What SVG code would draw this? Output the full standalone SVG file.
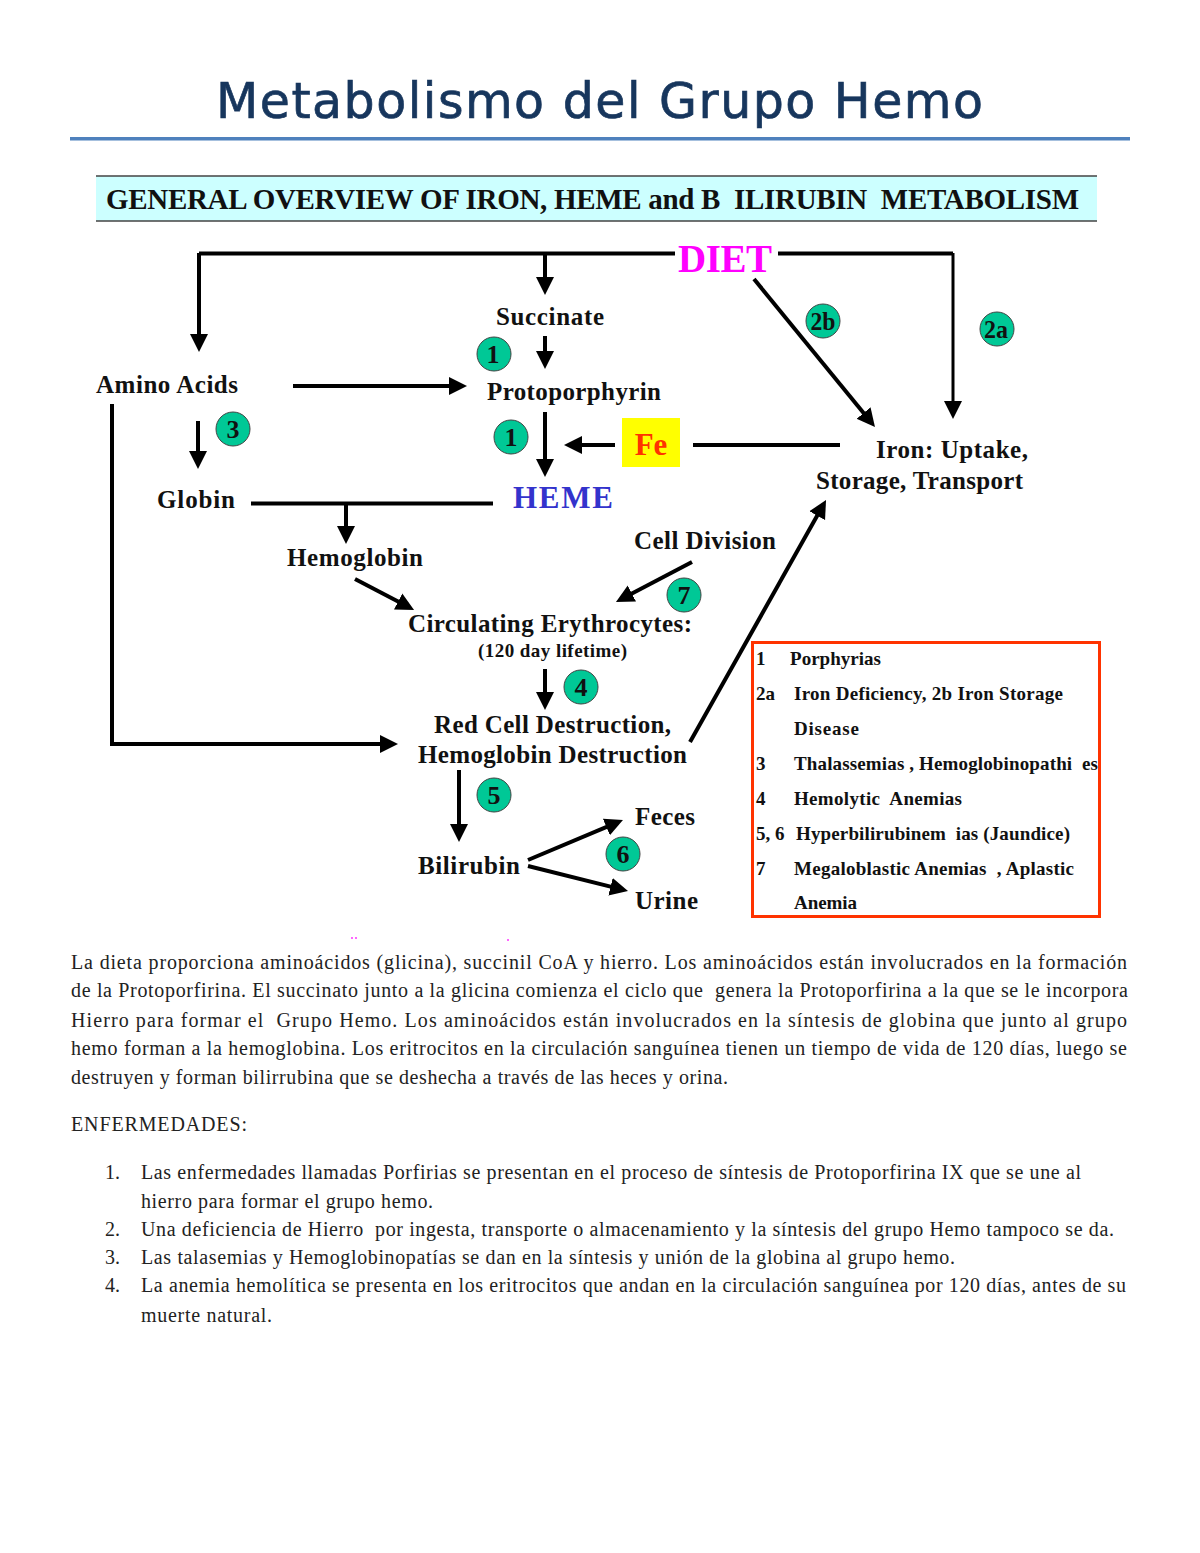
<svg xmlns="http://www.w3.org/2000/svg" width="1200" height="1553" viewBox="0 0 1200 1553">
<style>
text{white-space:pre}
.t{font-family:"Liberation Serif","Times New Roman",serif;font-weight:bold;fill:#111}
.n{font-size:25px}
.k{font-size:19px}
.b{font-family:"Liberation Serif","Times New Roman",serif;font-size:20px;fill:#222}
.w{stroke:#000;stroke-width:4;fill:none}
.a{stroke:#000;stroke-width:4;fill:none;marker-end:url(#h)}
.d{fill:#00C896;stroke:#444;stroke-width:1}
.m{font-size:26px;text-anchor:middle}
</style>
<defs>
<marker id="h" markerUnits="userSpaceOnUse" viewBox="0 0 18 20" markerWidth="18" markerHeight="20" refX="1" refY="10" orient="auto"><path d="M0 1L18 10L0 19Z" fill="#000"/></marker>
</defs>
<rect width="1200" height="1553" fill="#fff"/>
<text x="216" y="118" font-family="DejaVu Sans,sans-serif" font-size="49" fill="#17365D" stroke="#17365D" stroke-width="0.7" textLength="767" lengthAdjust="spacing">Metabolismo del Grupo Hemo</text>
<rect x="70" y="137" width="1060" height="3.5" fill="#4F81BD"/>
<g id="banner"><rect x="96" y="176" width="1001" height="45" fill="#CCFFFF"/><path d="M96 176H1097M96 221H1097" stroke="#444" stroke-width="1.5"/><text class="t" x="106" y="209" font-size="29" textLength="973" lengthAdjust="spacing">GENERAL OVERVIEW OF IRON, HEME and B  ILIRUBIN  METABOLISM</text></g>
<g id="connectors">
<path class="w" d="M675 253.500H199M778 253.500H953"/>
<path class="a" d="M199 253V335"/>
<path class="a" d="M545 253V278"/>
<path class="a" d="M545 336V352"/>
<path class="a" d="M293 386H450"/>
<path class="a" d="M198 421V452"/>
<path class="a" d="M545 412V460"/>
<path class="a" d="M615 445H581"/>
<path class="w" d="M693 445H840"/>
<path class="a" d="M754 279L864.200 413.800"/>
<path class="a" style="stroke-width:3" d="M953 253V402"/>
<path class="w" d="M251 503.500H493"/>
<path class="a" d="M346 503V527"/>
<path class="a" d="M355 579L399 602"/>
<path class="a" d="M692 562L631 594"/>
<path class="a" d="M545 669V693"/>
<path class="a" d="M112 404V744H381"/>
<path class="a" d="M459 770V825"/>
<path class="a" d="M528 860L607.300 826.600"/>
<path class="a" d="M528 866L611.500 886.900"/>
<path class="a" d="M690 742L817.700 514.800"/>
</g>
<g id="diet"><text class="t" x="678" y="272" font-size="39" style="fill:#FF00FF" textLength="94">DIET</text></g>
<g id="succinate"><text class="t n" x="496" y="325" textLength="108">Succinate</text></g>
<g id="amino-acids"><text class="t n" x="96" y="393" textLength="142">Amino Acids</text></g>
<g id="protoporphyrin"><text class="t n" x="487" y="400" textLength="174">Protoporphyrin</text></g>
<g id="fe"><rect x="622" y="418" width="58" height="49" fill="#FFFF00"/><text class="t" x="651" y="455" font-size="31" text-anchor="middle" style="fill:#FF3300">Fe</text></g>
<g id="iron"><text class="t n" x="876" y="458" textLength="152">Iron: Uptake,</text><text class="t n" x="816" y="489" textLength="207">Storage, Transport</text></g>
<g id="globin"><text class="t n" x="157" y="508" textLength="78">Globin</text></g>
<g id="heme"><text class="t" x="513" y="508" font-size="31" style="fill:#3333CC" textLength="100">HEME</text></g>
<g id="hemoglobin"><text class="t n" x="287" y="566" textLength="136">Hemoglobin</text></g>
<g id="cell-division"><text class="t n" x="634" y="549" textLength="142">Cell Division</text></g>
<g id="erythrocytes"><text class="t n" x="408" y="632" textLength="284">Circulating Erythrocytes:</text><text class="t" x="478" y="657" font-size="19" textLength="149">(120 day lifetime)</text></g>
<g id="destruction"><text class="t n" x="434" y="733" textLength="237">Red Cell Destruction,</text><text class="t n" x="418" y="763" textLength="269">Hemoglobin Destruction</text></g>
<g id="bilirubin"><text class="t n" x="418" y="874" textLength="102">Bilirubin</text></g>
<g id="feces"><text class="t n" x="635" y="825" textLength="60">Feces</text></g>
<g id="urine"><text class="t n" x="635" y="909" textLength="63">Urine</text></g>
<g id="badge-1a"><circle class="d" cx="494" cy="354" r="17"/><text class="t m" x="493" y="363">1</text></g>
<g id="badge-1b"><circle class="d" cx="511" cy="437" r="17"/><text class="t m" x="511" y="446">1</text></g>
<g id="badge-3"><circle class="d" cx="233" cy="429" r="17"/><text class="t m" x="233" y="438">3</text></g>
<g id="badge-2b"><circle class="d" cx="823" cy="321" r="17"/><text class="t m" x="823" y="330" textLength="25" lengthAdjust="spacingAndGlyphs">2b</text></g>
<g id="badge-2a"><circle class="d" cx="997" cy="329" r="17"/><text class="t m" x="996" y="338" textLength="24" lengthAdjust="spacingAndGlyphs">2a</text></g>
<g id="badge-7"><circle class="d" cx="684" cy="595" r="17"/><text class="t m" x="684" y="604">7</text></g>
<g id="badge-4"><circle class="d" cx="581" cy="687" r="17"/><text class="t m" x="581" y="696">4</text></g>
<g id="badge-5"><circle class="d" cx="494" cy="795" r="17"/><text class="t m" x="494" y="804">5</text></g>
<g id="badge-6"><circle class="d" cx="623" cy="854" r="17"/><text class="t m" x="623" y="863">6</text></g>
<g id="legend"><rect x="752.500" y="642.500" width="347" height="274" fill="#fff" stroke="#FF3300" stroke-width="3"/>
<text class="t k" x="756" y="665">1</text><text class="t k" x="790" y="665" textLength="91">Porphyrias</text>
<text class="t k" x="756" y="700">2a</text><text class="t k" x="794" y="700" textLength="269">Iron Deficiency, 2b Iron Storage</text>
<text class="t k" x="794" y="735" textLength="65">Disease</text>
<text class="t k" x="756" y="770">3</text><text class="t k" x="794" y="770" textLength="304">Thalassemias , Hemoglobinopathi  es</text>
<text class="t k" x="756" y="805">4</text><text class="t k" x="794" y="805" textLength="168">Hemolytic  Anemias</text>
<text class="t k" x="756" y="840">5, 6</text><text class="t k" x="796" y="840" textLength="274">Hyperbilirubinem  ias (Jaundice)</text>
<text class="t k" x="756" y="875">7</text><text class="t k" x="794" y="875" textLength="280">Megaloblastic Anemias  , Aplastic</text>
<text class="t k" x="794" y="909" textLength="63">Anemia</text></g>
<rect x="351" y="937" width="2" height="2" fill="#FF66FF"/><rect x="355" y="937" width="2" height="2" fill="#FF66FF"/><rect x="507" y="939" width="2" height="2" fill="#FF66FF"/>
<g id="body">
<text class="b" x="71" y="969" textLength="1056">La dieta proporciona aminoácidos (glicina), succinil CoA y hierro. Los aminoácidos están involucrados en la formación</text>
<text class="b" x="71" y="997" textLength="1057">de la Protoporfirina. El succinato junto a la glicina comienza el ciclo que  genera la Protoporfirina a la que se le incorpora</text>
<text class="b" x="71" y="1027" textLength="1056">Hierro para formar el  Grupo Hemo. Los aminoácidos están involucrados en la síntesis de globina que junto al grupo</text>
<text class="b" x="71" y="1055" textLength="1056">hemo forman a la hemoglobina. Los eritrocitos en la circulación sanguínea tienen un tiempo de vida de 120 días, luego se</text>
<text class="b" x="71" y="1084" textLength="657">destruyen y forman bilirrubina que se deshecha a través de las heces y orina.</text>
<text class="b" x="71" y="1131" textLength="176">ENFERMEDADES:</text>
<text class="b" x="105" y="1179">1.</text><text class="b" x="141" y="1179" textLength="940">Las enfermedades llamadas Porfirias se presentan en el proceso de síntesis de Protoporfirina IX que se une al</text>
<text class="b" x="141" y="1208" textLength="292">hierro para formar el grupo hemo.</text>
<text class="b" x="105" y="1236">2.</text><text class="b" x="141" y="1236" textLength="973">Una deficiencia de Hierro  por ingesta, transporte o almacenamiento y la síntesis del grupo Hemo tampoco se da.</text>
<text class="b" x="105" y="1264">3.</text><text class="b" x="141" y="1264" textLength="814">Las talasemias y Hemoglobinopatías se dan en la síntesis y unión de la globina al grupo hemo.</text>
<text class="b" x="105" y="1292">4.</text><text class="b" x="141" y="1292" textLength="985">La anemia hemolítica se presenta en los eritrocitos que andan en la circulación sanguínea por 120 días, antes de su</text>
<text class="b" x="141" y="1322" textLength="131">muerte natural.</text>
</g>
</svg>
